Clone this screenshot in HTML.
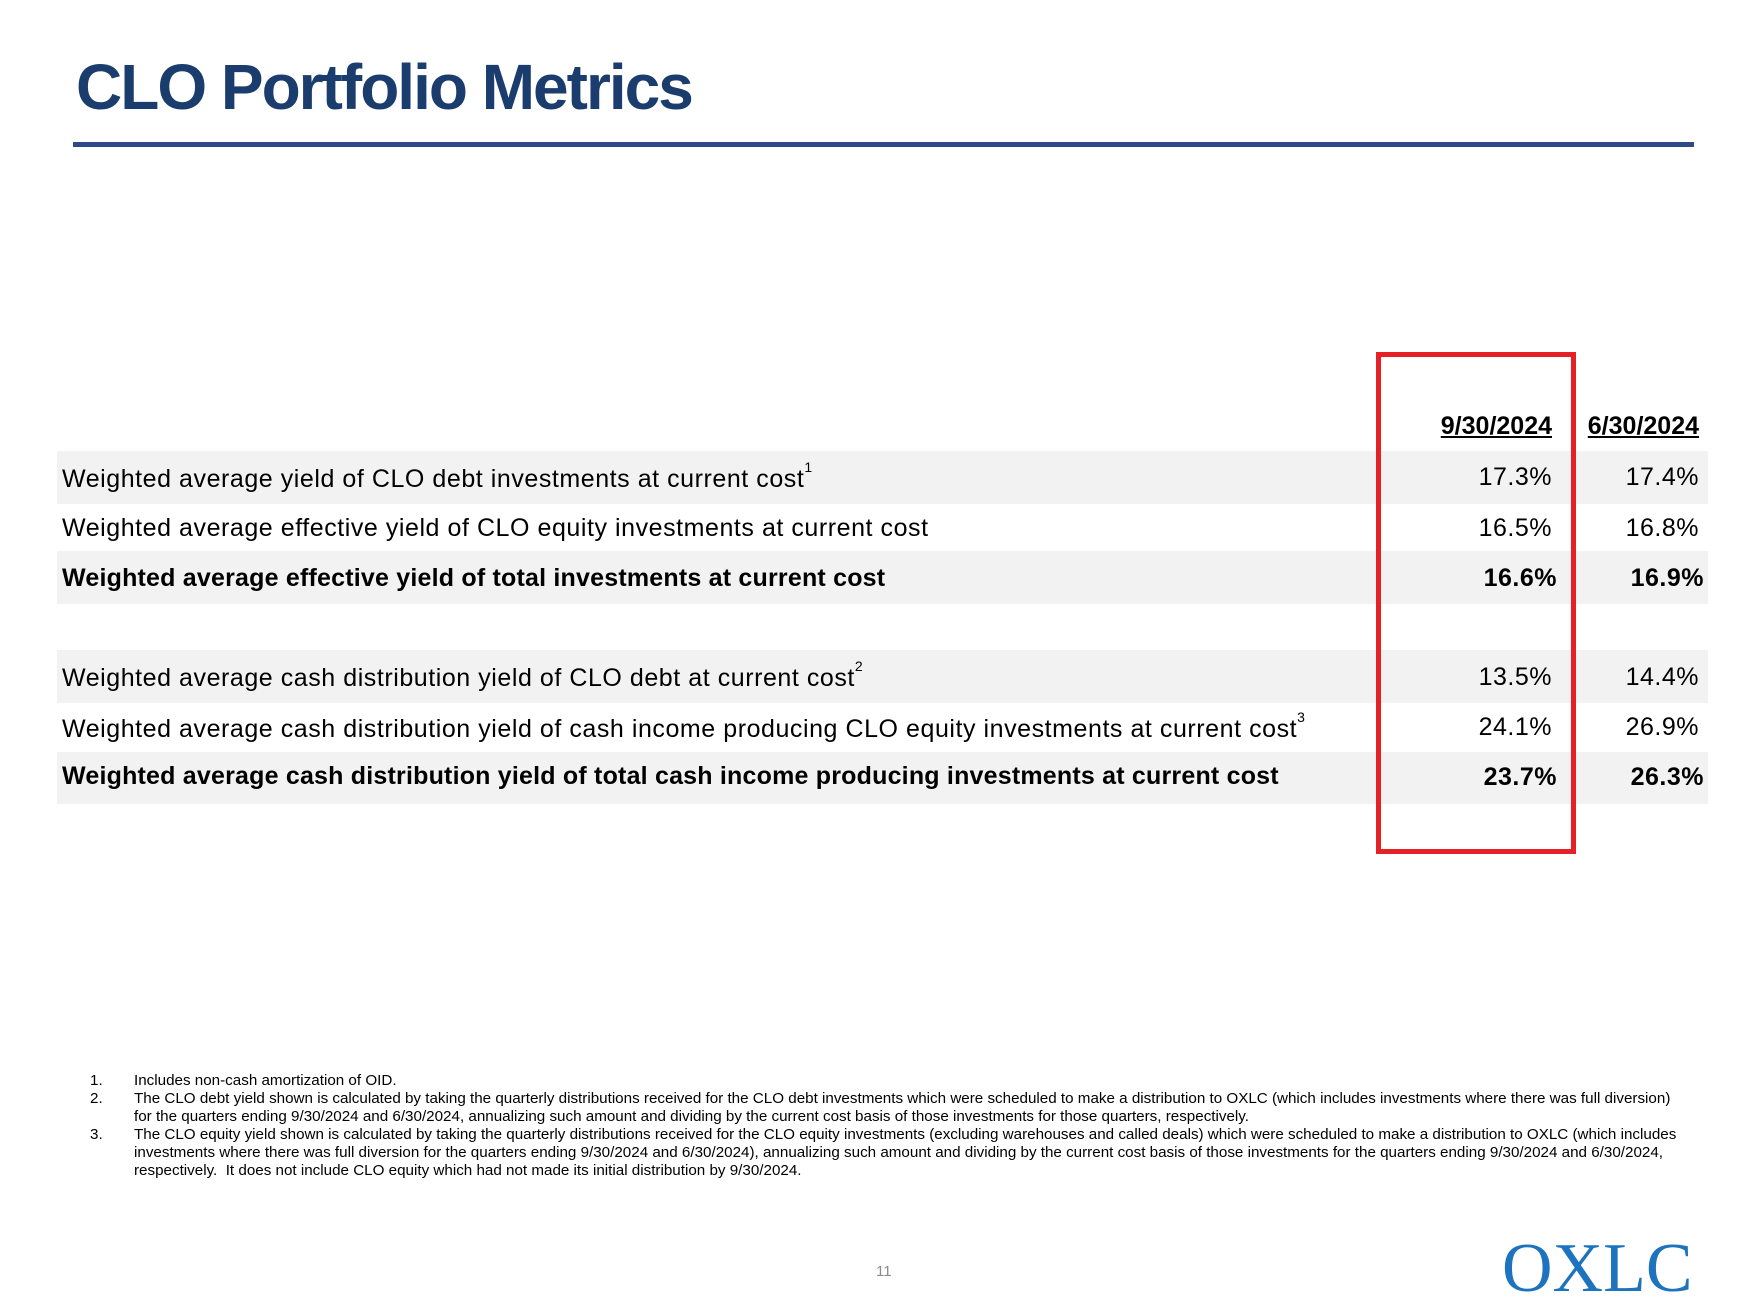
<!DOCTYPE html>
<html><head><meta charset="utf-8"><style>
body{margin:0;width:1755px;height:1312px;position:relative;background:#fff;font-family:"Liberation Sans",sans-serif;overflow:hidden}
.abs{position:absolute}
.row{position:absolute;left:57px;width:1651px;}
.gray{background:#f2f2f2}
.lbl{position:absolute;left:5px;font-size:25px;color:#000;white-space:nowrap;letter-spacing:0.55px}
.lbl.b{letter-spacing:0.2px}
.v{position:absolute;font-size:25px;text-align:right;width:120px;letter-spacing:0.5px}
.b{font-weight:bold}
sup{font-size:14px;vertical-align:top;position:relative;top:-6px}
.fn{position:absolute;font-size:15.2px;color:#000;line-height:18px;white-space:nowrap}
</style></head><body>
<div class="abs" style="left:76px;top:50px;font-size:64px;font-weight:bold;color:#1a3d6d;letter-spacing:-2px">CLO Portfolio Metrics</div>
<div class="abs" style="left:73px;top:142px;width:1621px;height:5px;background:#2e4a86"></div>

<div class="abs" style="left:1432px;top:412px;width:120px;text-align:right;font-size:25px;font-weight:bold;text-decoration:underline">9/30/2024</div>
<div class="abs" style="left:1579px;top:412px;width:120px;text-align:right;font-size:25px;font-weight:bold;text-decoration:underline">6/30/2024</div>

<div class="row gray" style="top:451px;height:53px"><span class="lbl" style="top:14px">Weighted average yield of CLO debt investments at current cost<sup>1</sup></span></div>
<div class="row" style="top:504px;height:47px"><span class="lbl" style="top:10px">Weighted average effective yield of CLO equity investments at current cost</span></div>
<div class="row gray" style="top:551px;height:53px"><span class="lbl b" style="top:13px">Weighted average effective yield of total investments at current cost</span></div>
<div class="row gray" style="top:650px;height:53px"><span class="lbl" style="top:14px">Weighted average cash distribution yield of CLO debt at current cost<sup>2</sup></span></div>
<div class="row" style="top:703px;height:49px"><span class="lbl" style="top:12px">Weighted average cash distribution yield of cash income producing CLO equity investments at current cost<sup>3</sup></span></div>
<div class="row gray" style="top:752px;height:52px"><span class="lbl b" style="top:10px">Weighted average cash distribution yield of total cash income producing investments at current cost</span></div>

<div class="v" style="left:1432px;top:463px">17.3%</div>
<div class="v" style="left:1579px;top:463px">17.4%</div>
<div class="v" style="left:1432px;top:514px">16.5%</div>
<div class="v" style="left:1579px;top:514px">16.8%</div>
<div class="v b" style="left:1437px;top:564px">16.6%</div>
<div class="v b" style="left:1584px;top:564px">16.9%</div>
<div class="v" style="left:1432px;top:663px">13.5%</div>
<div class="v" style="left:1579px;top:663px">14.4%</div>
<div class="v" style="left:1432px;top:713px">24.1%</div>
<div class="v" style="left:1579px;top:713px">26.9%</div>
<div class="v b" style="left:1437px;top:763px">23.7%</div>
<div class="v b" style="left:1584px;top:763px">26.3%</div>

<div class="abs" style="left:1376px;top:352px;width:190px;height:492px;border:5px solid #e52026"></div>

<div class="fn" style="left:90px;top:1072px">1.</div>
<div class="fn" style="left:134px;top:1072px">Includes non-cash amortization of OID.</div>
<div class="fn" style="left:90px;top:1090px">2.</div>
<div class="fn" style="left:134px;top:1090px">The CLO debt yield shown is calculated by taking the quarterly distributions received for the CLO debt investments which were scheduled to make a distribution to OXLC (which includes investments where there was full diversion)<br>for the quarters ending 9/30/2024 and 6/30/2024, annualizing such amount and dividing by the current cost basis of those investments for those quarters, respectively.</div>
<div class="fn" style="left:90px;top:1126px">3.</div>
<div class="fn" style="left:134px;top:1126px">The CLO equity yield shown is calculated by taking the quarterly distributions received for the CLO equity investments (excluding warehouses and called deals) which were scheduled to make a distribution to OXLC (which includes<br>investments where there was full diversion for the quarters ending 9/30/2024 and 6/30/2024), annualizing such amount and dividing by the current cost basis of those investments for the quarters ending 9/30/2024 and 6/30/2024,<br>respectively.&nbsp; It does not include CLO equity which had not made its initial distribution by 9/30/2024.</div>

<div class="abs" style="left:876px;top:1263px;font-size:15px;color:#8c8c8c">11</div>
<div class="abs" style="left:1502px;top:1229px;font-family:'Liberation Serif',serif;font-size:70px;color:#1e73be;line-height:80px">OXLC</div>
</body></html>
